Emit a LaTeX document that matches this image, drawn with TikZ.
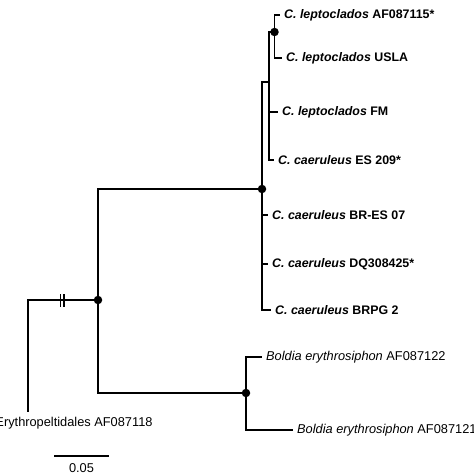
\documentclass[tikz,border=0pt]{standalone}
\usepackage{fontspec}
\setmainfont{Liberation Sans}
\usepackage{tikz}
\usetikzlibrary{positioning}

\begin{document}
\begin{tikzpicture}[
    x=1pt, y=-1pt,
    branch/.style={line width=1.5pt, line cap=rect},
    taxon/.style={anchor=west, inner xsep=5pt, inner ysep=0pt, font=\fontsize{12.4}{14}\selectfont\bfseries},
    outtaxon/.style={anchor=west, inner xsep=5pt, inner ysep=0pt, font=\fontsize{12.8}{14}\selectfont},
    dot/.style={circle, fill, inner sep=0pt, minimum size=8.5pt}
  ]
    \useasboundingbox (0,0) rectangle (474,475);

    \coordinate (root) at (98,300);
    \coordinate (bend) at (28,300);
    \coordinate (ery) at (28,411);
    \coordinate (clade) at (262,189);
    \coordinate (sub) at (269,82);
    \coordinate (pair) at (274.5,32);
    \coordinate (bold) at (246,393);

    \node[taxon] (lep1) at (279,15) {\textit{C. leptoclados} AF087115*};
    \node[taxon] (lep2) at (281,58) {\textit{C. leptoclados} USLA};
    \node[taxon] (lep3) at (277,112) {\textit{C. leptoclados} FM};
    \node[taxon] (cae1) at (273,160) {\textit{C. caeruleus} ES 209*};
    \node[taxon] (cae2) at (267,215) {\textit{C. caeruleus} BR-ES 07};
    \node[taxon] (cae3) at (267,264) {\textit{C. caeruleus} DQ308425*};
    \node[taxon] (cae4) at (270,310) {\textit{C. caeruleus} BRPG 2};
    \node[outtaxon] (bol1) at (261,357) {\textit{Boldia erythrosiphon} AF087122};
    \node[outtaxon] (bol2) at (292,430) {\textit{Boldia erythrosiphon} AF087121};
    \node[outtaxon, anchor=center, inner xsep=0pt] (erylabel) at (74,423) {Erythropeltidales AF087118};

    \draw[branch] (pair) |- (lep1.west);
    \draw[branch] (pair) |- (lep2.west);
    \draw[branch] (sub) |- (pair);
    \draw[branch] (sub) |- (lep3.west);
    \draw[branch] (sub) |- (cae1.west);
    \draw[branch] (clade) |- (sub);
    \draw[branch] (clade) |- (cae2.west);
    \draw[branch] (clade) |- (cae3.west);
    \draw[branch] (clade) |- (cae4.west);
    \draw[branch] (bold) |- (bol1.west);
    \draw[branch] (bold) |- (bol2.west);
    \draw[branch] (root) |- (clade);
    \draw[branch] (root) |- (bold);
    \draw[branch] (root) -- (bend) -- (ery);

    \draw[line width=1.8pt] (60.5,294) -- (60.5,307);
    \draw[line width=1.8pt] (64,294) -- (64,307);

    \node[dot] at (pair) {};
    \node[dot] at (clade) {};
    \node[dot] at (root) {};
    \node[dot] at (bold) {};

    \coordinate (barL) at (54,456);
    \coordinate (barR) at (109,456);
    \draw[line width=1.4pt] (barL) -- (barR);
    \node[font=\fontsize{12.8}{14}\selectfont] (barlabel) at (81.5,468) {0.05};
  \end{tikzpicture}
\end{document}
